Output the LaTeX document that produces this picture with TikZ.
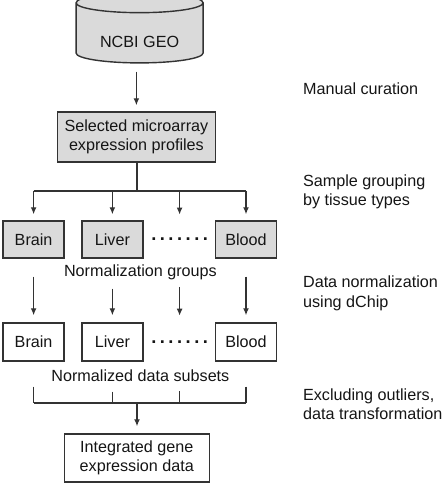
\documentclass[tikz,border=0pt]{standalone}
\usepackage{fontspec}
\setmainfont{Liberation Sans}
\usepackage{xcolor}
\usepackage{tikz}
\usetikzlibrary{arrows.meta,positioning,shapes.geometric,calc}
\definecolor{boxgray}{HTML}{DADADA}
\definecolor{linegray}{HTML}{333333}
\definecolor{textblack}{HTML}{151515}
\tikzset{
  database/.style={cylinder, shape border rotate=90, draw=linegray, fill=boxgray, line width=1pt, aspect=0.25, minimum width=31.75mm, minimum height=17.5mm, inner sep=0pt, text height=21pt, text depth=0pt},
  greybox/.style={draw=linegray, align=center, fill=boxgray, line width=1pt, inner sep=0pt, minimum height=9.25mm, minimum width=15.3mm},
  whitebox/.style={draw=linegray, align=center, fill=white, line width=1pt, inner sep=0pt, minimum height=9.5mm, minimum width=15.3mm},
  dotsrow/.style={inner sep=0pt, minimum height=9.3mm, font=\fontsize{13}{13}\selectfont\bfseries},
  caption/.style={inner sep=0pt, align=center},
  stage/.style={inner sep=0pt, align=left, anchor=west},
  arrow/.style={-{Latex[length=5pt, width=4.2pt]}, line width=0.9pt, draw=linegray},
  joint/.style={line width=0.9pt, draw=linegray}
}
\newcommand{\dotrun}{.\hspace{2.5pt}.\hspace{2.5pt}.\hspace{2.5pt}.\hspace{2.5pt}.\hspace{2.5pt}.\hspace{2.5pt}.}

\begin{document}
\begin{tikzpicture}[font=\fontsize{11.5}{13.8}\selectfont, text=textblack]
  \useasboundingbox (0,0) rectangle (11.05,-12.075);

  % main column
  \node[database] (geo) at (3.49,-0.83) {NCBI GEO};
  \node[greybox, minimum width=39.5mm, minimum height=12.5mm] (sel) at (3.41,-3.425) {Selected microarray\\expression profiles};

  % normalization groups
  \node[greybox] (brainG) at (0.84,-5.9875) {Brain};
  \node[greybox] (liverG) at (2.81,-5.9875) {Liver};
  \node[dotsrow] (gdots) at (4.49,-5.9875) {\dotrun};
  \node[greybox] (bloodG) at (6.15,-5.9875) {Blood};
  \node[caption] (gnote) at (3.51,-6.82) {Normalization groups};

  % normalized data subsets
  \node[whitebox] (brainN) at (0.84,-8.55) {Brain};
  \node[whitebox] (liverN) at (2.81,-8.55) {Liver};
  \node[dotsrow, minimum height=9.5mm] (ndots) at (4.49,-8.55) {\dotrun};
  \node[whitebox] (bloodN) at (6.15,-8.55) {Blood};
  \node[caption] (nnote) at (3.51,-9.4) {Normalized data subsets};

  \node[whitebox, minimum width=36.25mm, minimum height=12mm] (integ) at (3.42,-11.45) {Integrated gene\\expression data};

  % steps on the right
  \node[stage] (tcur) at (7.57,-2.2075) {Manual curation};
  \node[stage] (tgroup) at (7.57,-4.8) {Sample grouping\\by tissue types};
  \node[stage] (tnorm) at (7.57,-7.335) {Data normalization\\using dChip};
  \node[stage] (ttrans) at (7.57,-10.11) {Excluding outliers,\\data transformation};

  \coordinate (gsplit) at (3.425,-4.775);
  \coordinate (nmerge) at (3.425,-10.075);

  % connectors
  \draw[arrow, shorten <=2mm, shorten >=1.5mm] (geo.south -| sel.north) -- (sel.north);
  \draw[joint] (sel.south -| gsplit) -- (gsplit);
  \draw[joint] (brainG |- gsplit) -- (bloodG |- gsplit);
  \foreach \g in {brainG,liverG,gdots,bloodG}
    \draw[arrow, shorten >=1.5mm] (\g |- gsplit) -- (\g.north);

  \draw[arrow, shorten <=4.5mm, shorten >=1.75mm] (brainG.south) -- (brainN.north);
  \draw[arrow, shorten <=7.5mm, shorten >=1.75mm] (liverG.south) -- (liverN.north);
  \draw[arrow, shorten <=7.1mm, shorten >=1.75mm] (gdots.south) -- (ndots.north);
  \draw[arrow, shorten <=4.5mm, shorten >=1.75mm] (bloodG.south) -- (bloodN.north);

  \draw[joint, shorten <=6.25mm] (brainN.south) -- (brainN |- nmerge);
  \draw[joint, shorten <=7.5mm] (liverN.south) -- (liverN |- nmerge);
  \draw[joint, shorten <=7.5mm] (ndots.south) -- (ndots |- nmerge);
  \draw[joint, shorten <=6.25mm] (bloodN.south) -- (bloodN |- nmerge);
  \draw[joint] (brainN |- nmerge) -- (bloodN |- nmerge);
  \draw[arrow, shorten >=1.75mm] (nmerge) -- (integ.north -| nmerge);
\end{tikzpicture}
\end{document}
